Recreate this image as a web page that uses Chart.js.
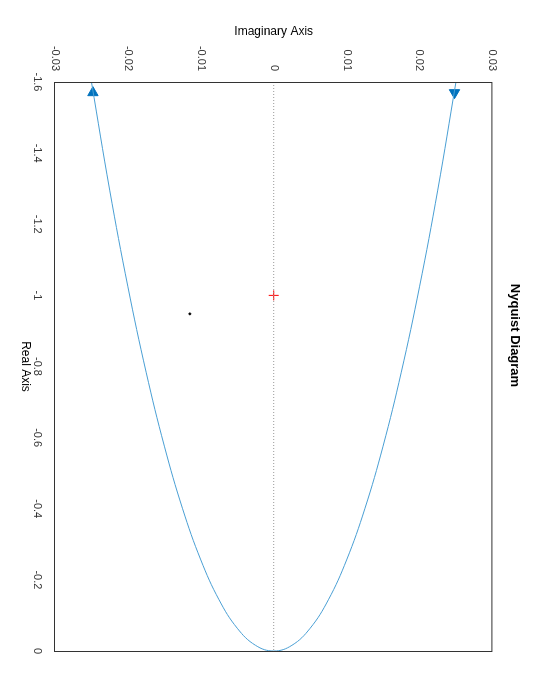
<!DOCTYPE html>
<html><head><meta charset="utf-8">
<script src="https://cdn.jsdelivr.net/npm/chart.js@4/dist/chart.umd.min.js"></script>
<style>
body{margin:0;background:#fff;}
#wrap{position:relative;width:540px;height:686px;overflow:hidden;}
#rot{position:absolute;left:0;top:0;width:686px;height:540px;transform-origin:0 0;transform:translate(540px,0) rotate(90deg);}
</style></head><body>
<div id="wrap"><div id="rot"><canvas id="c" width="686" height="540"></canvas></div></div>
<script>
// Nyquist curve: real parts and imaginary parts
const realVals = [-1.6,-1.296,-1.024,-0.784,-0.576,-0.4,-0.256,-0.144,-0.064,-0.016,0,-0.016,-0.064,-0.144,-0.256,-0.4,-0.576,-0.784,-1.024,-1.296,-1.6];
const imagVals = [0.025,0.0225,0.02,0.0175,0.015,0.0125,0.01,0.0075,0.005,0.0025,0,-0.0025,-0.005,-0.0075,-0.01,-0.0125,-0.015,-0.0175,-0.02,-0.0225,-0.025];
const arrowPts = [{x:-1.57,y:0.0248},{x:-1.57,y:-0.0248}];
const criticalPt = [{x:-1,y:0}];
const dotPt = [{x:-0.948,y:-0.0115}];
const realTicks = [-1.6,-1.4,-1.2,-1,-0.8,-0.6,-0.4,-0.2,0];
const imagTicks = [-0.03,-0.02,-0.01,0,0.01,0.02,0.03];

const blue='#0072BD';
const fmt=v=>String(Math.round(v*1000)/1000);
const boxPlugin={id:'box',afterDraw(ch){const a=ch.chartArea,c=ch.ctx;c.save();c.strokeStyle='#333';c.lineWidth=1;c.strokeRect(a.left+0.5,a.top+0.5,a.right-a.left,a.bottom-a.top);c.restore();}};
new Chart(document.getElementById('c'),{
type:'scatter',
data:{datasets:[
{data:[{x:-1.6,y:0},{x:0,y:0}],showLine:true,borderColor:'#999',borderWidth:1,borderDash:[1,2],pointRadius:0},
{data:realVals.map((r,i)=>({x:r,y:imagVals[i]})),showLine:true,borderColor:'#4a9fd4',borderWidth:1,pointRadius:0,tension:0.4},
{data:arrowPts,pointStyle:'triangle',pointRadius:6,rotation:[90,-90],backgroundColor:blue,borderColor:blue},
{data:criticalPt,pointStyle:'cross',pointRadius:5,borderColor:'red',borderWidth:1},
{data:dotPt,pointRadius:1,backgroundColor:'#000',borderColor:'#000'}
]},
options:{responsive:false,animation:false,devicePixelRatio:1,
layout:{padding:{left:20,right:35,top:0,bottom:14}},
plugins:{legend:{display:false},tooltip:{enabled:false},
title:{display:true,text:'Nyquist Diagram',color:'#000',font:{family:'Liberation Sans, Arial',size:13,weight:'bold'},padding:{top:18,bottom:14}}},
scales:{
x:{type:'linear',min:-1.6,max:0,afterBuildTicks:s=>{s.ticks=realTicks.map(v=>({value:v}));},afterFit:s=>{s.height=41;},
grid:{display:false},border:{display:false},
ticks:{color:'#333',font:{family:'Liberation Sans, Arial',size:11},callback:v=>fmt(v),maxRotation:0},
title:{display:true,text:'Real Axis',color:'#000',font:{family:'Liberation Sans, Arial',size:12},padding:{top:4}}},
y:{type:'linear',min:-0.03,max:0.03,afterBuildTicks:s=>{s.ticks=imagTicks.map(v=>({value:v}));},afterFit:s=>{s.width=62;},
grid:{display:false},border:{display:false},
ticks:{color:'#333',font:{family:'Liberation Sans, Arial',size:11},callback:v=>fmt(v)},
title:{display:true,text:'Imaginary Axis',color:'#000',font:{family:'Liberation Sans, Arial',size:12}}}
}},
plugins:[boxPlugin]
});
</script></body></html>
